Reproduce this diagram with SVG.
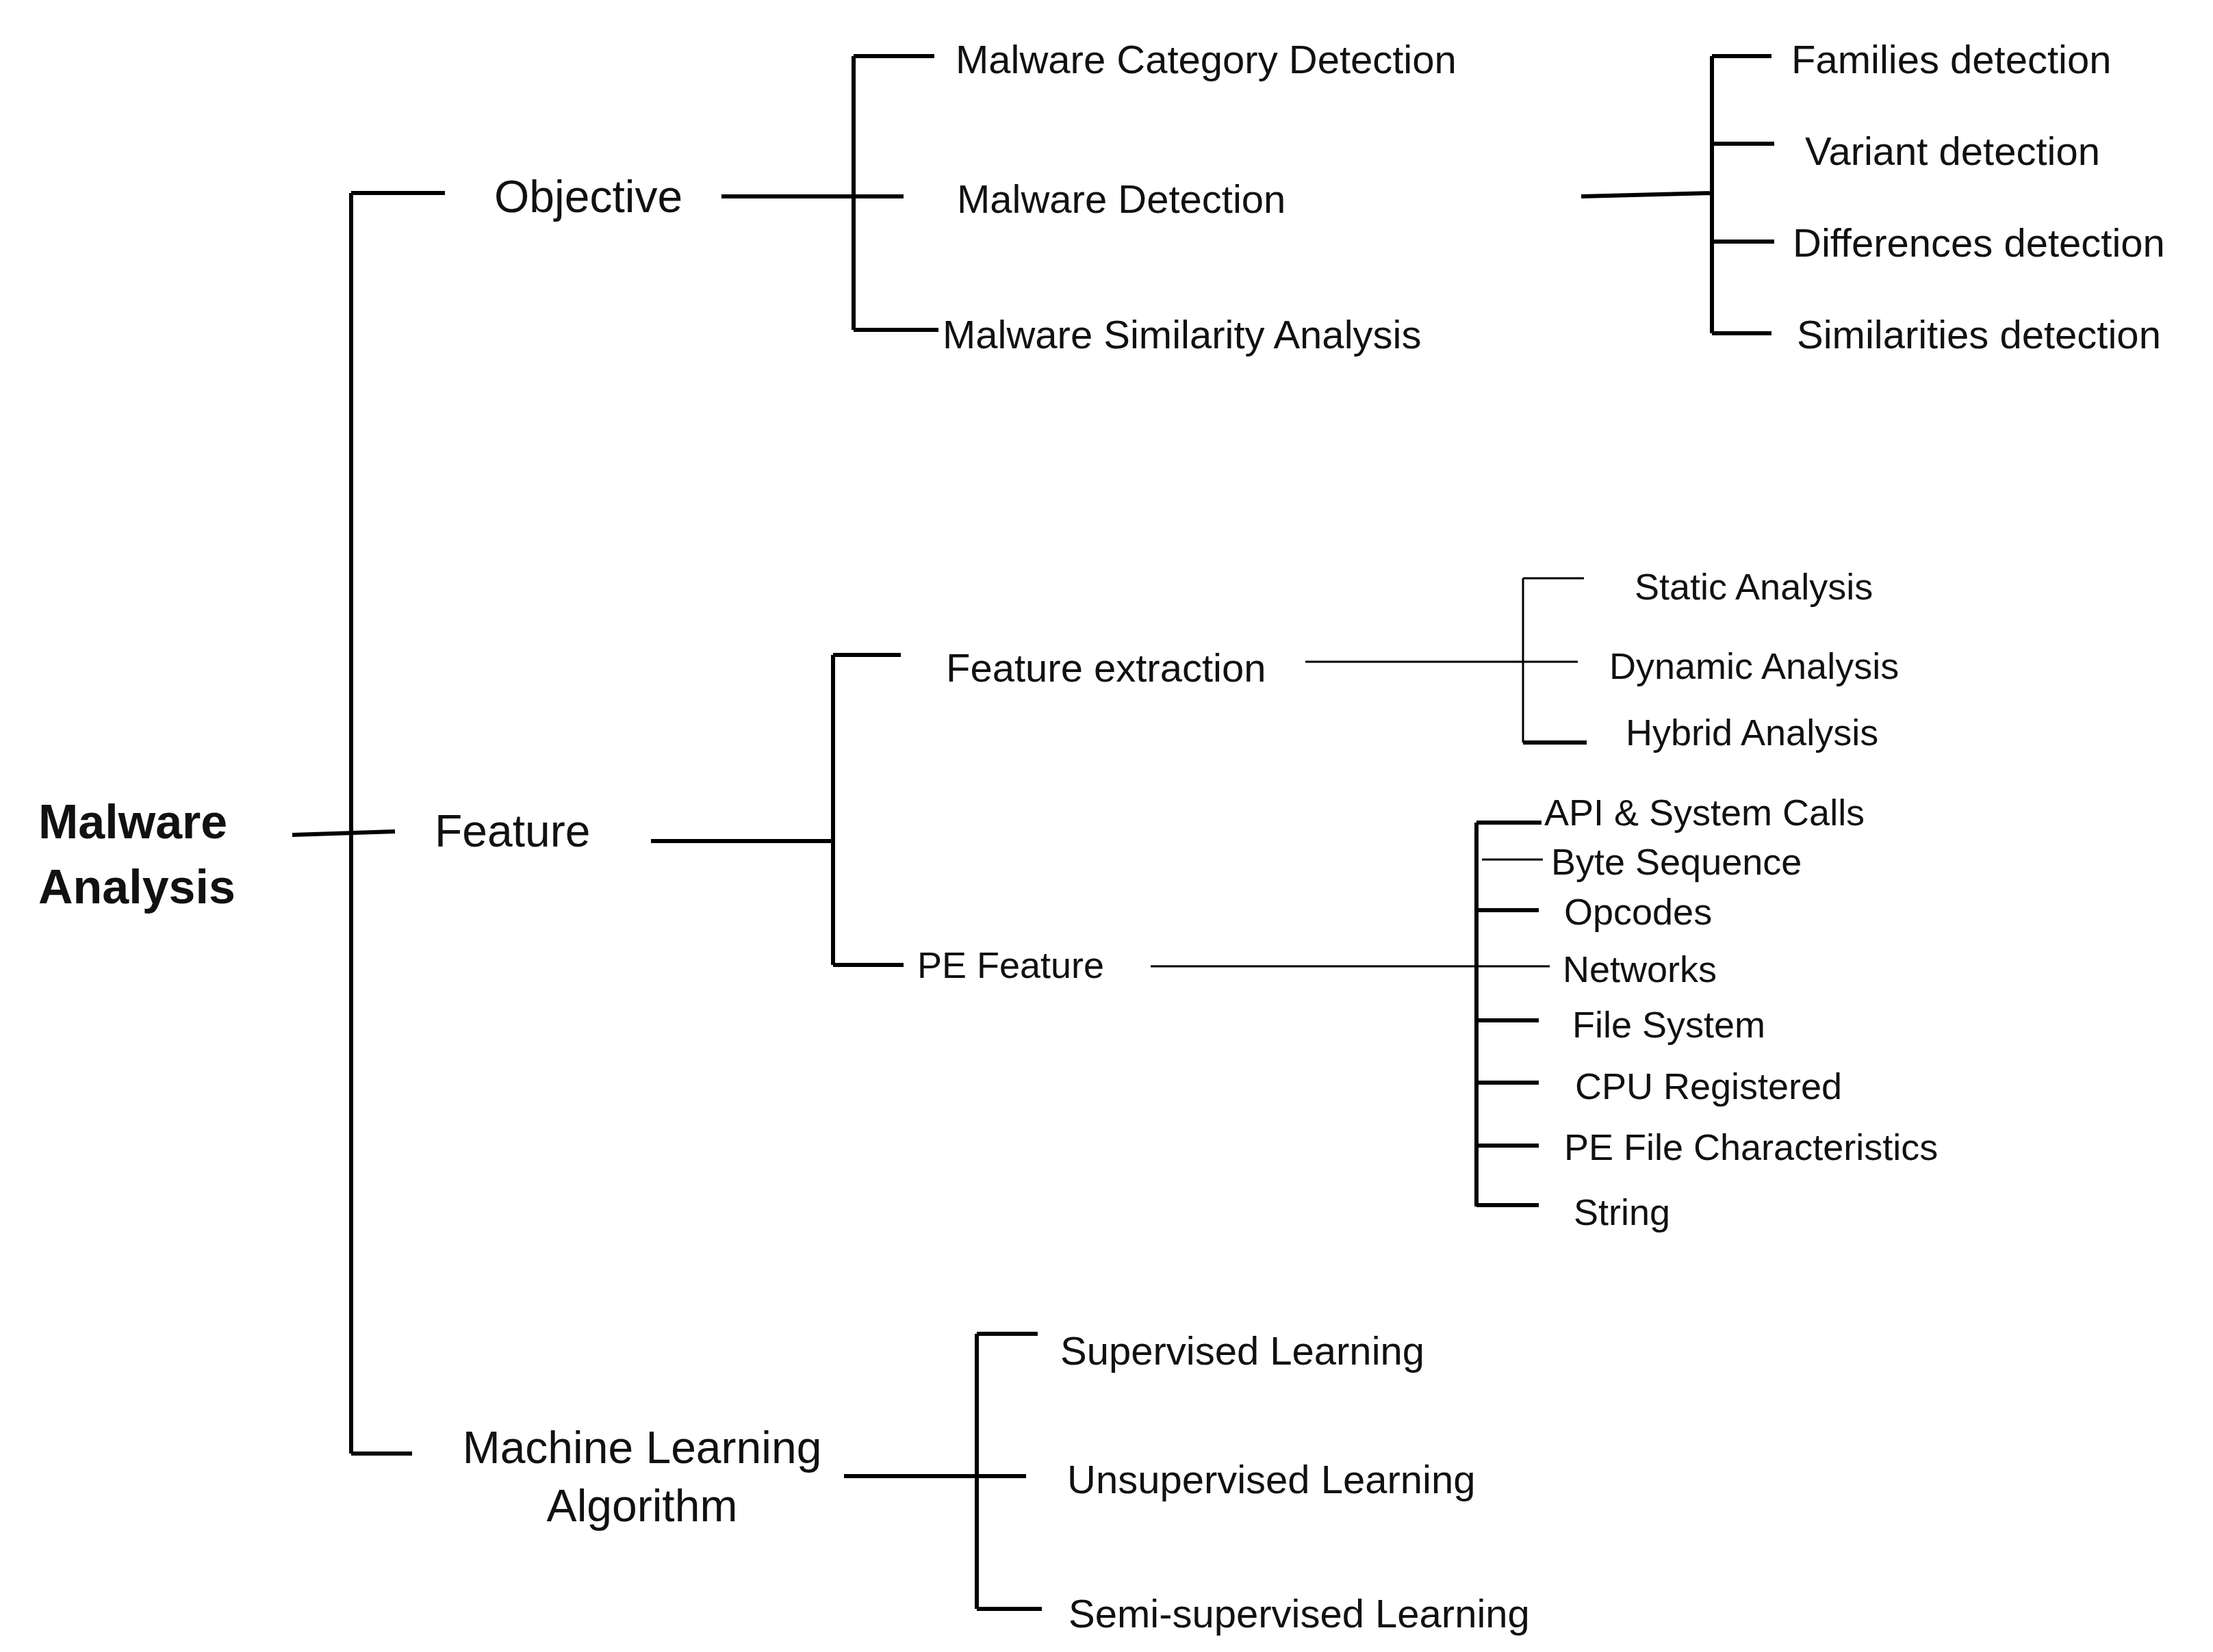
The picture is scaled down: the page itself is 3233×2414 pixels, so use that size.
<svg xmlns="http://www.w3.org/2000/svg" width="3233" height="2414" viewBox="0 0 3233 2414">
<style>
text{font-family:"Liberation Sans",Arial,sans-serif;fill:#111}
.k{stroke:#000;stroke-width:6;fill:none}
.t{stroke:#000;stroke-width:3;fill:none}
.l{font-size:66px}.m{font-size:58px}.s{font-size:54px}
</style>
<rect width="3233" height="2414" fill="#fff"/>
<g id="connectors">
<path class="k" d="M427 1220 L577 1215 M513 282 V2124 M513 282 H650 M513 2124 H602"/>
<path class="k" d="M1054 287 H1320 M1247 82 V482 M1247 82 H1365 M1247 482 H1371"/>
<path class="k" d="M2310 287 L2501 282 M2501 82 V487 M2501 82 H2588 M2501 210 H2592 M2501 353 H2592 M2501 487 H2588"/>
<path class="k" d="M951 1229 H1217 M1217 957 V1410 M1217 957 H1316 M1217 1410 H1320"/>
<path class="t" d="M1907 967 H2305 M2225 845 V1085 M2225 845 H2314"/>
<path class="k" d="M2225 1085 H2318"/>
<path class="t" d="M1681 1412 H2264 M2165 1256 H2254"/>
<path class="k" d="M2157 1202 V1763 M2157 1202 H2252 M2157 1330 H2248 M2157 1491 H2248 M2157 1582 H2248 M2157 1674 H2248 M2157 1761 H2248"/>
<path class="k" d="M1233 2157 H1499 M1427 1949 V2351 M1427 1949 H1516 M1427 2351 H1522"/>
</g>
<g id="root"><text x="56" y="1225" style="font-size:70px;font-weight:bold">Malware</text><text x="56" y="1320" style="font-size:70px;font-weight:bold">Analysis</text></g>
<g id="objective"><text class="l" x="722" y="310">Objective</text></g>
<g id="mcd"><text class="m" x="1396" y="107">Malware Category Detection</text></g>
<g id="md"><text class="m" x="1398" y="311">Malware Detection</text></g>
<g id="msa"><text class="m" x="1377" y="509">Malware Similarity Analysis</text></g>
<g id="fam"><text class="m" x="2617" y="107">Families detection</text></g>
<g id="var"><text class="m" x="2637" y="241">Variant detection</text></g>
<g id="dif"><text class="m" x="2619" y="375">Differences detection</text></g>
<g id="sim"><text class="m" x="2625" y="509">Similarities detection</text></g>
<g id="feature"><text class="l" x="635" y="1237">Feature</text></g>
<g id="fe"><text class="m" x="1382" y="996">Feature extraction</text></g>
<g id="pe"><text class="s" x="1340" y="1429">PE Feature</text></g>
<g id="sa"><text class="s" x="2388" y="876">Static Analysis</text></g>
<g id="da"><text class="s" x="2351" y="992">Dynamic Analysis</text></g>
<g id="ha"><text class="s" x="2375" y="1089">Hybrid Analysis</text></g>
<g id="api"><text class="s" x="2256" y="1206">API &amp; System Calls</text></g>
<g id="byte"><text class="s" x="2266" y="1278">Byte Sequence</text></g>
<g id="op"><text class="s" x="2285" y="1351">Opcodes</text></g>
<g id="net"><text class="s" x="2283" y="1435">Networks</text></g>
<g id="fs"><text class="s" x="2297" y="1516">File System</text></g>
<g id="cpu"><text class="s" x="2301" y="1606">CPU Registered</text></g>
<g id="pefc"><text class="s" x="2285" y="1695">PE File Characteristics</text></g>
<g id="str"><text class="s" x="2299" y="1790">String</text></g>
<g id="ml"><text class="l" x="938" y="2138" text-anchor="middle">Machine Learning</text><text class="l" x="938" y="2223" text-anchor="middle">Algorithm</text></g>
<g id="sup"><text class="m" x="1549" y="1994">Supervised Learning</text></g>
<g id="uns"><text class="m" x="1559" y="2182">Unsupervised Learning</text></g>
<g id="semi"><text class="m" x="1561" y="2378">Semi-supervised Learning</text></g>
</svg>
